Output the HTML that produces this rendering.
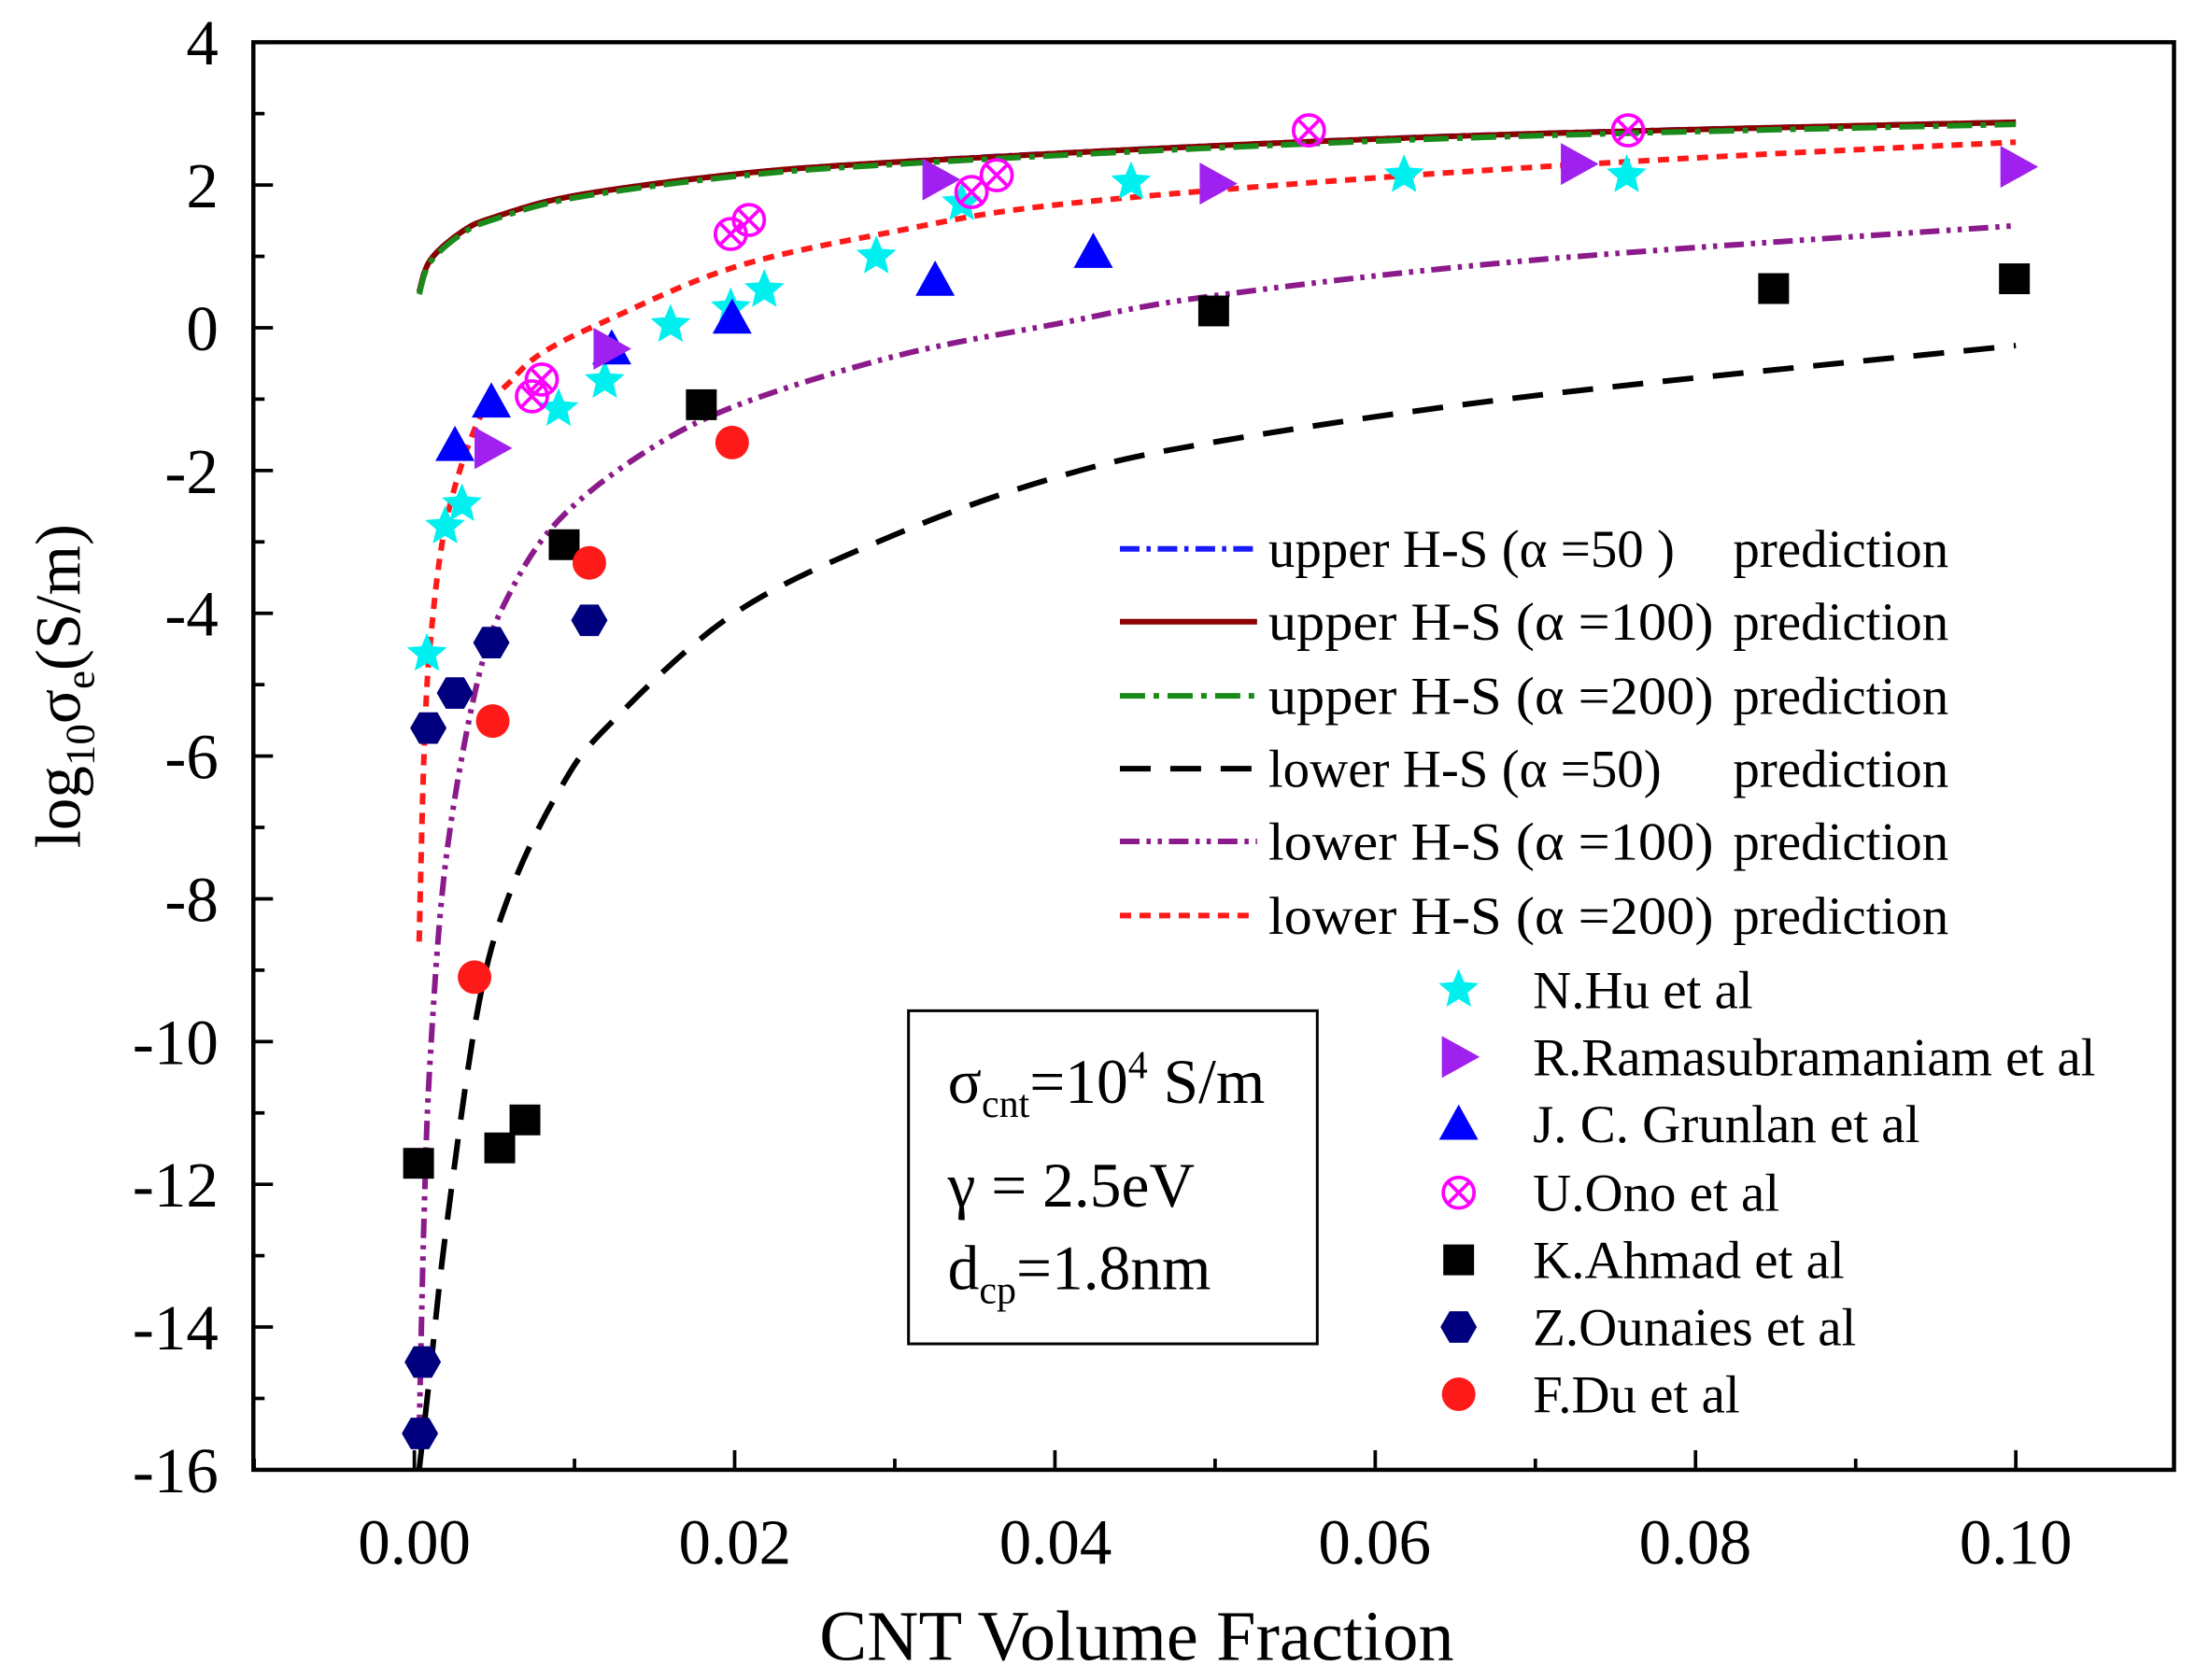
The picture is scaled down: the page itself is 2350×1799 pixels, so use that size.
<!DOCTYPE html>
<html><head><meta charset="utf-8"><style>
html,body{margin:0;padding:0;background:#fff;}
svg{display:block;}
text{font-family:"Liberation Serif",serif;}
</style></head><body>
<svg id="s" width="2350" height="1799" viewBox="0 0 1568 1200" xmlns="http://www.w3.org/2000/svg">
<rect width="1568" height="1200" fill="#fff"/>
<g id="curves"></g>
<rect x="181" y="30" width="1372" height="1020" fill="none" stroke="#000" stroke-width="3"/>
<g id="ticks" stroke="#000" stroke-width="2.5"></g>
<g font-size="46" text-anchor="end">
<text x="156" y="46">4</text><text x="156" y="148">2</text><text x="156" y="250">0</text>
<text x="156" y="352">-2</text><text x="156" y="454">-4</text><text x="156" y="556">-6</text>
<text x="156" y="658">-8</text><text x="156" y="760">-10</text><text x="156" y="862">-12</text>
<text x="156" y="964">-14</text><text x="156" y="1066">-16</text>
</g>
<g font-size="46" text-anchor="middle">
<text x="296" y="1117">0.00</text><text x="525" y="1117">0.02</text><text x="754" y="1117">0.04</text>
<text x="982" y="1117">0.06</text><text x="1211" y="1117">0.08</text><text x="1440" y="1117">0.10</text>
</g>
<text x="812" y="1186" font-size="51" text-anchor="middle">CNT Volume Fraction</text>
<text transform="translate(57,490) rotate(-90)" font-size="46" text-anchor="middle">log<tspan font-size="30" dy="10">10</tspan><tspan dy="-10">σ</tspan><tspan font-size="30" dy="10">e</tspan><tspan dy="-10">(S/m)</tspan></text>
<g stroke-width="4" fill="none">
<line x1="800" y1="392" x2="898" y2="392" stroke="#1a1aff" stroke-dasharray="14,5,3,5"/>
<line x1="800" y1="444" x2="898" y2="444" stroke="#8b0000"/>
<line x1="800" y1="497" x2="898" y2="497" stroke="#1a8a1a" stroke-dasharray="18,6,4,6"/>
<line x1="800" y1="549" x2="898" y2="549" stroke="#000" stroke-dasharray="22,14"/>
<line x1="800" y1="601" x2="898" y2="601" stroke="#8b1a8b" stroke-dasharray="14,5,3,5,3,5"/>
<line x1="800" y1="654" x2="898" y2="654" stroke="#ff1a1a" stroke-dasharray="8,6"/>
</g>
<g font-size="38">
<text x="906" y="405">upper H-S (α =50 )</text>
<text x="906" y="457" textLength="318" lengthAdjust="spacingAndGlyphs">upper H-S (α =100)</text>
<text x="906" y="510" textLength="318" lengthAdjust="spacingAndGlyphs">upper H-S (α =200)</text>
<text x="906" y="562">lower H-S (α =50)</text>
<text x="906" y="614" textLength="318" lengthAdjust="spacingAndGlyphs">lower H-S (α =100)</text>
<text x="906" y="667" textLength="318" lengthAdjust="spacingAndGlyphs">lower H-S (α =200)</text>
<text x="1238" y="405">prediction</text><text x="1238" y="457">prediction</text><text x="1238" y="510">prediction</text>
<text x="1238" y="562">prediction</text><text x="1238" y="614">prediction</text><text x="1238" y="667">prediction</text>
<text x="1095" y="720">N.Hu et al</text>
<text x="1095" y="768" textLength="402" lengthAdjust="spacingAndGlyphs">R.Ramasubramaniam et al</text>
<text x="1095" y="816">J. C. Grunlan et al</text>
<text x="1095" y="865">U.Ono et al</text>
<text x="1095" y="913">K.Ahmad et al</text>
<text x="1095" y="961">Z.Ounaies et al</text>
<text x="1095" y="1009">F.Du et al</text>
</g>
<rect x="649" y="722" width="292" height="238" fill="none" stroke="#000" stroke-width="2"/>
<g font-size="45">
<text x="677" y="788">σ<tspan font-size="28" dy="10">cnt</tspan><tspan dy="-10">=10</tspan><tspan font-size="28" dy="-18">4</tspan><tspan dy="18"> S/m</tspan></text>
<text x="677" y="862">γ = 2.5eV</text>
<text x="677" y="921">d<tspan font-size="28" dy="10">cp</tspan><tspan dy="-10">=1.8nm</tspan></text>
</g>
<g id="marks"></g>
</svg>
<script>
const NS="http://www.w3.org/2000/svg";
const px=x=>296+x*11440, py=y=>234-y*51;
function el(tag,attrs,parent){const e=document.createElementNS(NS,tag);for(const k in attrs)e.setAttribute(k,attrs[k]);parent.appendChild(e);return e;}
function path(pts){pts=pts.map(p=>[px(p[0]),py(p[1])]);let d="M"+pts[0][0]+","+pts[0][1];
for(let i=0;i<pts.length-1;i++){const p0=pts[Math.max(0,i-1)],p1=pts[i],p2=pts[i+1],p3=pts[Math.min(pts.length-1,i+2)];
const c1=[p1[0]+(p2[0]-p0[0])/6,p1[1]+(p2[1]-p0[1])/6],c2=[p2[0]-(p3[0]-p1[0])/6,p2[1]-(p3[1]-p1[1])/6];
d+=" C"+c1+" "+c2+" "+p2;}return d;}
const cg=document.getElementById("curves");
const up=[[0.0003,0.5],[0.001,0.95],[0.003,1.35],[0.005,1.55],[0.01,1.85],[0.02,2.15],[0.03,2.32],[0.05,2.55],[0.07,2.72],[0.1,2.88]];
el("path",{d:path(up),stroke:"#1a1aff","stroke-width":4,fill:"none","stroke-dasharray":"14,5,3,5"},cg);
el("path",{d:path(up),stroke:"#8b0000","stroke-width":4,fill:"none"},cg);
el("path",{d:path(up.map(p=>[p[0],p[1]-0.03])),stroke:"#1a8a1a","stroke-width":4,fill:"none","stroke-dasharray":"18,6,4,6"},cg);
el("path",{d:path([[0.0003,-8.6],[0.0006,-6.0],[0.001,-4.4],[0.002,-2.7],[0.004,-1.3],[0.006,-0.75],[0.008,-0.35],[0.012,0.1],[0.02,0.85],[0.03,1.35],[0.04,1.72],[0.06,2.1],[0.08,2.38],[0.1,2.6]]),stroke:"#ff1a1a","stroke-width":4,fill:"none","stroke-dasharray":"8,6"},cg);
el("path",{d:path([[0.0003,-15.5],[0.0006,-12.5],[0.001,-10.2],[0.002,-7.4],[0.004,-4.9],[0.006,-3.7],[0.009,-2.7],[0.014,-1.8],[0.02,-1.1],[0.03,-0.4],[0.04,0.05],[0.05,0.45],[0.07,0.95],[0.1,1.43]]),stroke:"#8b1a8b","stroke-width":4,fill:"none","stroke-dasharray":"14,5,3,5,3,5"},cg);
el("path",{d:path([[0.0003,-16],[0.001,-14.6],[0.002,-12.6],[0.004,-9.5],[0.006,-7.9],[0.009,-6.5],[0.012,-5.6],[0.02,-4.0],[0.03,-2.9],[0.04,-2.1],[0.05,-1.6],[0.07,-0.95],[0.1,-0.25]]),stroke:"#000","stroke-width":4,fill:"none","stroke-dasharray":"22,14"},cg);
const tg=document.getElementById("ticks");
for(let v=-16;v<=4;v++){const y=py(v);el("line",{x1:181,x2:v%2==0?195:189,y1:y,y2:y},tg);}
for(let i=-1;i<=12;i++){const x=296+i*114.4;if(x<181||x>1553)continue;el("line",{x1:x,x2:x,y1:1050,y2:i%2==0?1036:1042},tg);}
const mg=document.getElementById("marks");
function star(x,y,r,c){let d="";for(let i=0;i<10;i++){const a=-Math.PI/2+i*Math.PI/5,rr=i%2?r*0.45:r;d+=(i?"L":"M")+(x+rr*Math.cos(a))+","+(y+rr*Math.sin(a));}el("path",{d:d+"Z",fill:c},mg);}
function tri(x,y,r,c){el("path",{d:`M${x},${y-r}L${x+r},${y+r*0.8}L${x-r},${y+r*0.8}Z`,fill:c},mg);}
function rtri(x,y,r,c){el("path",{d:`M${x+r},${y}L${x-r*0.8},${y-r}L${x-r*0.8},${y+r}Z`,fill:c},mg);}
function sq(x,y,r,c){el("rect",{x:x-r,y:y-r,width:2*r,height:2*r,fill:c},mg);}
function hex(x,y,r,c){let d="";for(let i=0;i<6;i++){const a=i*Math.PI/3;d+=(i?"L":"M")+(x+r*Math.cos(a))+","+(y+r*Math.sin(a));}el("path",{d:d+"Z",fill:c},mg);}
function circ(x,y,r,c){el("circle",{cx:x,cy:y,r:r,fill:c},mg);}
function oc(x,y,r,c){el("circle",{cx:x,cy:y,r:r,fill:"none",stroke:c,"stroke-width":2.5},mg);const k=r*0.7;el("path",{d:`M${x-k},${y-k}L${x+k},${y+k}M${x-k},${y+k}L${x+k},${y-k}`,stroke:c,"stroke-width":2.5},mg);}
[[305,467],[318,376],[330,360],[399,292],[432,272],[479,232],[522,220],[546,207],[626,183],[687,145],[808,130],[1003,125],[1162,125],[1042,707]].forEach(p=>star(p[0],p[1],15,"#00f0f0"));
[[325,318],[351,287],[437,249],[523,227],[668,200],[781,180],[1042,803]].forEach(p=>tri(p[0],p[1],14,"#0000ff"));
[[351,320],[436,249],[671,128],[869,131],[1127,117],[1441,119],[1042,755]].forEach(p=>rtri(p[0],p[1],15,"#a020f0"));
[[380,283],[387,271],[522,167],[535,157],[694,137],[712,125],[935,93],[1163,93],[1042,852]].forEach(p=>oc(p[0],p[1],11,"#ff00ff"));
[[299,831],[357,820],[375,800],[403,389],[501,289],[867,222],[1267,206],[1439,199],[1042,900]].forEach(p=>sq(p[0],p[1],11,"#000"));
[[306,520],[325,495],[351,459],[421,443],[302,973],[300,1024],[1042,948]].forEach(p=>hex(p[0],p[1],13,"#00007f"));
[[352,515],[339,698],[421,402],[523,316],[1042,996]].forEach(p=>circ(p[0],p[1],12,"#ff1a1a"));
</script>
</body></html>
